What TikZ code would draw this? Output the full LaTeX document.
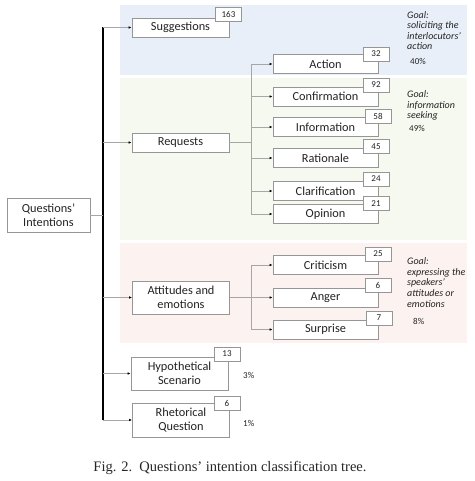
\documentclass[tikz,border=0pt]{standalone}
\usepackage{fontspec}
\setmainfont{Carlito}
\newfontfamily\capfont{Liberation Serif}
\usetikzlibrary{arrows.meta,calc}
\definecolor{bluereg}{RGB}{233,239,248}
\definecolor{greenreg}{RGB}{245,249,240}
\definecolor{pinkreg}{RGB}{252,243,240}
\definecolor{boxline}{RGB}{150,150,150}
\definecolor{txt}{RGB}{35,35,35}
\tikzset{
  mainbox/.style={draw=boxline, fill=white, line width=0.8pt, minimum width=97pt, minimum height=19pt, inner sep=1pt, align=center, font=\fontsize{12.3}{14}\selectfont, text=txt},
  subbox/.style={draw=boxline, fill=white, line width=0.8pt, minimum width=105pt, minimum height=19pt, inner sep=1pt, align=center, font=\fontsize{12.3}{14}\selectfont, text=txt},
  numbox/.style={draw=boxline, fill=white, line width=0.7pt, minimum width=26pt, minimum height=14pt, inner sep=1pt, font=\fontsize{9}{10}\selectfont, text=txt},
  goaltext/.style={anchor=north west, align=left, inner sep=0pt, font=\fontsize{10}{10.6}\selectfont\itshape, text=txt},
  pct/.style={anchor=west, inner sep=0pt, font=\fontsize{9}{10}\selectfont, text=txt},
  branch/.style={draw=gray!70, line width=0.6pt, -{Latex[length=3pt,width=2.6pt,black]}},
  conn/.style={draw=gray!70, line width=0.6pt},
  trunk/.style={draw=black, line width=1.6pt},
}
\begin{document}
\begin{tikzpicture}[x=1pt,y=-1pt]
\useasboundingbox (0,0) rectangle (474,481);
% regions
\fill[bluereg] (120,5) rectangle (467,75);
\fill[greenreg] (120,78) rectangle (467,240);
\fill[pinkreg] (120,243) rectangle (467,343);

% coordinates
\coordinate (tt) at (103,27.5);
\coordinate (tb) at (103,420);
\coordinate (s1) at (251,64);
\coordinate (s2) at (251,264);

% main nodes
\node[mainbox, minimum width=83pt, minimum height=34pt] (qi) at (48.5,215) {Questions'\\Intentions};
\node[mainbox] (sug) at (180.5,27.5) {Suggestions};
\node[mainbox] (req) at (180.5,142.5) {Requests};
\node[mainbox, minimum height=33pt] (att) at (181,297.5) {Attitudes and\\emotions};
\node[mainbox, minimum height=33pt] (hyp) at (179.5,373.5) {Hypothetical\\Scenario};
\node[mainbox, minimum height=34pt] (rhe) at (181,420) {Rhetorical\\Question};

% sub nodes
\node[subbox] (act) at (325.5,64) {Action};
\node[subbox] (con) at (325.5,96.5) {Confirmation};
\node[subbox] (inf) at (325.5,127) {Information};
\node[subbox] (rat) at (325.5,158) {Rationale};
\node[subbox] (cla) at (325.5,191) {Clarification};
\node[subbox] (opi) at (325.5,214) {Opinion};
\node[subbox] (cri) at (325.5,265) {Criticism};
\node[subbox] (ang) at (325.5,297.5) {Anger};
\node[subbox] (sur) at (325.5,329.5) {Surprise};

% number boxes
\node[numbox] (n163) at (228.5,14.5) {163};
\node[numbox] (n32) at (376,54) {32};
\node[numbox] (n92) at (376,85) {92};
\node[numbox] (n58) at (378,116.5) {58};
\node[numbox] (n45) at (376,146.5) {45};
\node[numbox] (n24) at (376,179) {24};
\node[numbox] (n21) at (376,203.5) {21};
\node[numbox] (n25) at (378,254) {25};
\node[numbox] (n6a) at (378,285) {6};
\node[numbox] (n7) at (379,318) {7};
\node[numbox] (n13) at (227,354) {13};
\node[numbox] (n6b) at (227,403.5) {6};

% trunk
\draw[trunk] (tt) -- (tb);
\draw[conn] (qi.east) -- (qi.east -| tt);
\draw[branch] (sug.west -| tt) -- (sug.west);
\draw[branch] (req.west -| tt) -- (req.west);
\draw[branch] (att.west -| tt) -- (att.west);
\draw[branch] (hyp.west -| tt) -- (hyp.west);
\draw[branch] (rhe.west -| tt) -- (rhe.west);

% requests subtree
\draw[conn] (req.east) -- (req.east -| s1);
\draw[conn] (act.west -| s1) -- (opi.west -| s1);
\foreach \n in {act,con,inf,rat,cla,opi}
  \draw[branch] (\n.west -| s1) -- (\n.west);

% attitudes subtree
\draw[conn] (att.east) -- (att.east -| s2);
\draw[conn] (cri.west -| s2) -- (sur.west -| s2);
\foreach \n in {cri,ang,sur}
  \draw[branch] (\n.west -| s2) -- (\n.west);

% goal texts
\node[goaltext] (g1) at (407,11) {Goal:\\soliciting the\\interlocutors'\\action};
\node[pct] (p1) at (410,61.5) {40\%};
\node[goaltext] (g2) at (407,90.5) {Goal:\\information\\seeking};
\node[pct] (p2) at (409,128) {49\%};
\node[goaltext] (g3) at (407,257.5) {Goal:\\expressing the\\speakers'\\attitudes or\\emotions};
\node[pct] (p3) at (413,321.5) {8\%};
\node[pct] (p4) at (243,375) {3\%};
\node[pct] (p5) at (243,423) {1\%};

% caption
\node[font=\capfont\fontsize{14.5}{16}\selectfont, text=black!85, inner sep=0pt] (cap) at (230,468) {Fig. 2.\ \ Questions’ intention classification tree.};
\end{tikzpicture}
\end{document}
